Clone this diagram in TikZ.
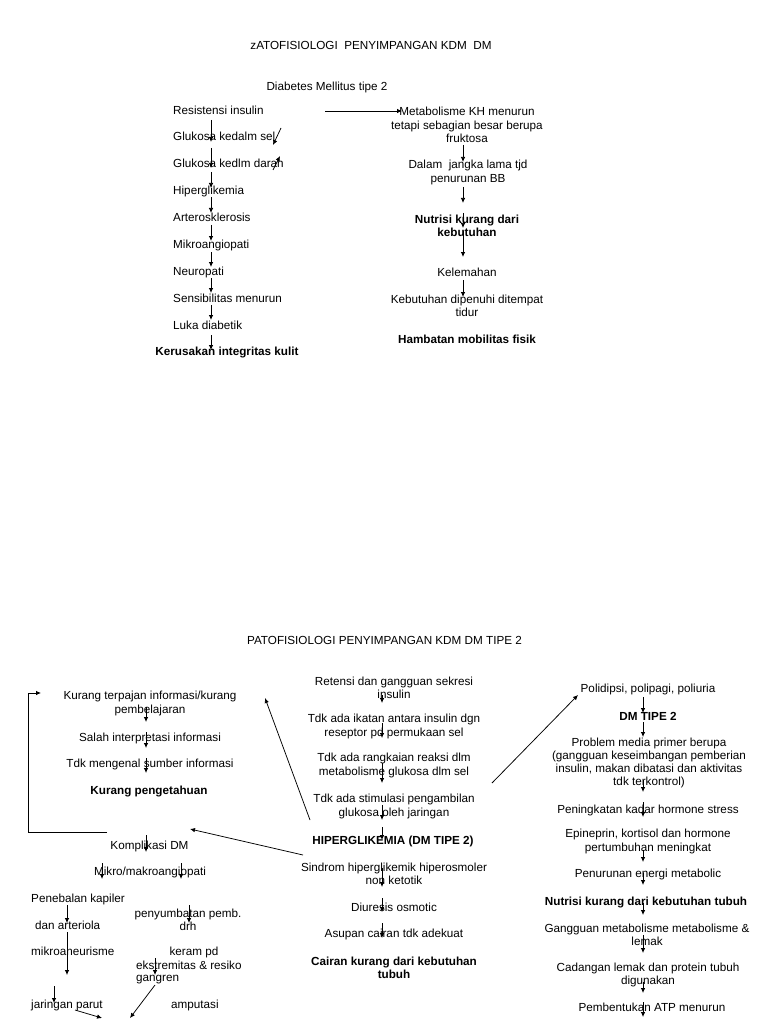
\documentclass[tikz,border=0pt]{standalone}
\usepackage{fontspec}
\setmainfont{Liberation Sans}
\usetikzlibrary{arrows.meta,calc}
\tikzset{
  tx/.style={font=\fontsize{11.7}{13.2}\selectfont, inner sep=0pt, text height=8.5pt, text depth=2.5pt},
  txb/.style={tx, font=\fontsize{11.7}{13.2}\selectfont\bfseries},
  tm/.style={font=\fontsize{11.7}{13.2}\selectfont, inner sep=0pt, align=center},
  tmb/.style={tm, font=\fontsize{11.7}{13.2}\selectfont\bfseries},
  arr/.style={-{Latex[length=5pt,width=4.5pt]}, line width=0.75pt},
}
\newcommand\darr[5]{\draw[arr] ($(#1.center -| #5)+(0,#2)$) -- ($(#3.center -| #5)+(0,#4)$);}
\begin{document}
\begin{tikzpicture}[x=1pt,y=-1pt]
\fill[white] (0,0) rectangle (768,1024);
\useasboundingbox (0,0) rectangle (768,1024);
% column coordinates
\coordinate (cTL) at (211,0);
\coordinate (cTR) at (463,0);
\coordinate (cBM) at (382,0);
\coordinate (cBL) at (146,0);
\coordinate (cBR) at (643,0);
\coordinate (c102) at (102,0);
\coordinate (c181) at (181,0);
\coordinate (c67) at (67,0);
\coordinate (c189) at (189,0);
\coordinate (c155) at (155,0);
\coordinate (c54) at (54,0);
% ---------- top diagram ----------
\node[tx] (T1) at (371,47) {zATOFISIOLOGI~ PENYIMPANGAN KDM~ DM};
\node[tx] (DM) at (327,88) {Diabetes Mellitus tipe 2};
\node[tx,anchor=west] (L1) at (173,112) {Resistensi insulin};
\node[tx,anchor=west] (L2) at (173,138) {Glukosa kedalm sel};
\node[tx,anchor=west] (L3) at (173,165) {Glukosa kedlm darah};
\node[tx,anchor=west] (L4) at (173,192) {Hiperglikemia};
\node[tx,anchor=west] (L5) at (173,219) {Arterosklerosis};
\node[tx,anchor=west] (L6) at (173,245) {Mikroangiopati};
\node[tx,anchor=west] (L7) at (173,272) {Neuropati};
\node[tx,anchor=west] (L8) at (173,299) {Sensibilitas menurun};
\node[tx,anchor=west] (L9) at (173,326) {Luka diabetik};
\node[txb] (K) at (227,352) {Kerusakan integritas kulit};
\node[tm] (R1) at (467,125) {Metabolisme KH menurun\\tetapi sebagian besar berupa\\fruktosa};
\node[tm] (R2) at (468,172.5) {Dalam~ jangka lama tjd\\penurunan BB};
\node[tmb] (R3) at (467,225.5) {Nutrisi kurang dari\\kebutuhan};
\node[tx] (R4) at (467,273) {Kelemahan};
\node[tm] (R5) at (467,306) {Kebutuhan dipenuhi ditempat\\tidur};
\node[txb] (R6) at (467,340) {Hambatan mobilitas fisik};
\coordinate (hs) at (325,111);
\coordinate (he) at (402,111);
\coordinate (s1) at (281,128);
\coordinate (s2) at (273,145);
\coordinate (s3) at (273,170);
\coordinate (s4) at (280,156);
\draw[arr] (hs) -- (he);
\draw[arr] (s1) -- (s2);
\draw[arr] (s3) -- (s4);
\darr{L1}{8}{L2}{4}{cTL}
\darr{L2}{10}{L3}{3}{cTL}
\darr{L3}{7}{L4}{-4}{cTL}
\darr{L4}{5}{L5}{-6}{cTL}
\darr{L5}{6}{L6}{-4}{cTL}
\darr{L6}{7}{L7}{-5}{cTL}
\darr{L7}{6}{L8}{-6}{cTL}
\darr{L8}{6}{L9}{-6}{cTL}
\darr{L9}{9}{K}{-2}{cTL}
\darr{R1}{20}{R2}{-10.5}{cTR}
\darr{R2}{14.5}{R3}{-22.5}{cTR}
\darr{R3}{-12.5}{R3}{2.5}{cTR}
\darr{R3}{5.5}{R4}{-16}{cTR}
\darr{R4}{7}{R5}{-9}{cTR}
% ---------- bottom diagram ----------
\node[tx] (T2) at (384.5,641) {PATOFISIOLOGI PENYIMPANGAN KDM DM TIPE 2};
% middle column
\node[tm] (M1) at (394,687.5) {Retensi dan gangguan sekresi\\insulin};
\node[tm] (M2) at (394,726.5) {Tdk ada ikatan antara insulin dgn\\reseptor pd permukaan sel};
\node[tm] (M3) at (394,765.5) {Tdk ada rangkaian reaksi dlm\\metabolisme glukosa dlm sel};
\node[tm] (M4) at (394,806.5) {Tdk ada stimulasi pengambilan\\glukosa oleh jaringan};
\node[txb] (H) at (393,841) {HIPERGLIKEMIA (DM TIPE 2)};
\node[tm] (M5) at (394,873.5) {Sindrom hiperglikemik hiperosmoler\\non ketotik};
\node[tx] (M6) at (394,908) {Diuresis osmotic};
\node[tx] (M7) at (394,934) {Asupan cairan tdk adekuat};
\node[tmb] (M8) at (394,968) {Cairan kurang dari kebutuhan\\tubuh};
\darr{M1}{7.5}{M2}{-23.5}{cBM}
\darr{M2}{-3.5}{M3}{-27.5}{cBM}
\darr{M3}{-2.5}{M4}{-23.5}{cBM}
\darr{M4}{-1.5}{H}{-21}{cBM}
\darr{H}{-14}{H}{-1}{cBM}
\darr{H}{27}{M5}{13.5}{cBM}
\darr{M5}{24.5}{M6}{4}{cBM}
\darr{M6}{15}{M7}{4}{cBM}
% diagonal connectors
\coordinate (a1) at (310,820);
\coordinate (a2) at (265,698);
\coordinate (b1) at (303,855);
\coordinate (b2) at (190,829);
\coordinate (g1) at (492,783);
\coordinate (g2) at (578,695);
\draw[arr] (a1) -- (a2);
\draw[arr] (b1) -- (b2);
\draw[arr] (g1) -- (g2);
% left column
\node[tm] (B1) at (150,703.5) {Kurang terpajan informasi/kurang\\pembelajaran};
\node[tx] (B2) at (150,738) {Salah interpretasi informasi};
\node[tx] (B3) at (150,764) {Tdk mengenal sumber informasi};
\node[txb] (B4) at (149,791) {Kurang pengetahuan};
\node[tx] (KD) at (149.5,846) {Komplikasi DM};
\node[tx] (MM) at (150,872) {Mikro/makroangiopati};
\node[tx,anchor=west] (PB) at (31,899) {Penebalan kapiler};
\node[tx,anchor=west] (DA) at (35,926) {dan arteriola};
\node[tm] (PS) at (188,920) {penyumbatan pemb.\\drh};
\node[tx,anchor=west] (MA) at (31,952) {mikroaneurisme};
\node[tx] (KP) at (194,952) {keram pd};
\node[tx,anchor=west] (ER) at (136,966) {ekstremitas \& resiko};
\node[tx,anchor=west] (GG) at (136,978) {gangren};
\node[tx,anchor=west] (JP) at (31,1005) {jaringan parut};
\node[tx,anchor=west] (AM) at (171,1005) {amputasi};
\darr{B1}{3.5}{B2}{-16}{cBL}
\darr{B2}{-6}{B3}{-16}{cBL}
\darr{B3}{-6}{B4}{-18}{cBL}
\darr{KD}{-11}{KD}{6}{cBL}
\darr{MM}{-9}{PB}{-20}{c102}
\darr{MM}{-9}{PS}{-41}{c181}
\darr{PB}{6}{DA}{-3}{c67}
\darr{PS}{-15}{PS}{3}{c189}
\darr{DA}{6}{JP}{-30}{c67}
\darr{KP}{6}{GG}{-3}{c155}
\darr{MA}{34}{JP}{-2}{c54}
\coordinate (bs) at (107,832);
\coordinate (bc) at (28,693);
\coordinate (be) at (41,693);
\draw[arr] (bs) -| (bc) -- (be);
\coordinate (d1s) at (155,985);
\coordinate (d1e) at (130,1018);
\coordinate (d2s) at (75,1010);
\coordinate (d2e) at (102,1018);
\draw[arr] (d1s) -- (d1e);
\draw[arr] (d2s) -- (d2e);
% right column
\node[tx] (P1) at (648,689) {Polidipsi, polipagi, poliuria};
\node[txb] (P2) at (648,717) {DM TIPE 2};
\node[tm] (P3) at (649,763) {Problem media primer berupa\\(gangguan keseimbangan pemberian\\insulin, makan dibatasi dan aktivitas\\tdk terkontrol)};
\node[tx] (P4) at (648,810) {Peningkatan kadar hormone stress};
\node[tm] (P5) at (648,841.5) {Epineprin, kortisol dan hormone\\pertumbuhan meningkat};
\node[tx] (P6) at (648,874) {Penurunan energi metabolic};
\node[txb] (P7) at (646,902) {Nutrisi kurang dari kebutuhan tubuh};
\node[tm] (P8) at (647,935) {Gangguan metabolisme metabolisme \&\\lemak};
\node[tm] (P9) at (648,975) {Cadangan lemak dan protein tubuh\\digunakan};
\node[tx] (P10) at (652,1008) {Pembentukan ATP menurun};
\darr{P1}{8}{P2}{-4}{cBR}
\darr{P2}{5}{P3}{-26}{cBR}
\darr{P3}{17}{P4}{-18}{cBR}
\darr{P4}{-8}{P5}{-24.5}{cBR}
\darr{P5}{8.5}{P6}{-12}{cBR}
\darr{P6}{-1}{P7}{-17}{cBR}
\darr{P7}{1}{P8}{-20}{cBR}
\darr{P8}{0}{P9}{-22}{cBR}
\darr{P9}{7}{P10}{-15}{cBR}
\darr{P10}{-6}{P10}{9}{cBR}
\end{tikzpicture}
\end{document}
